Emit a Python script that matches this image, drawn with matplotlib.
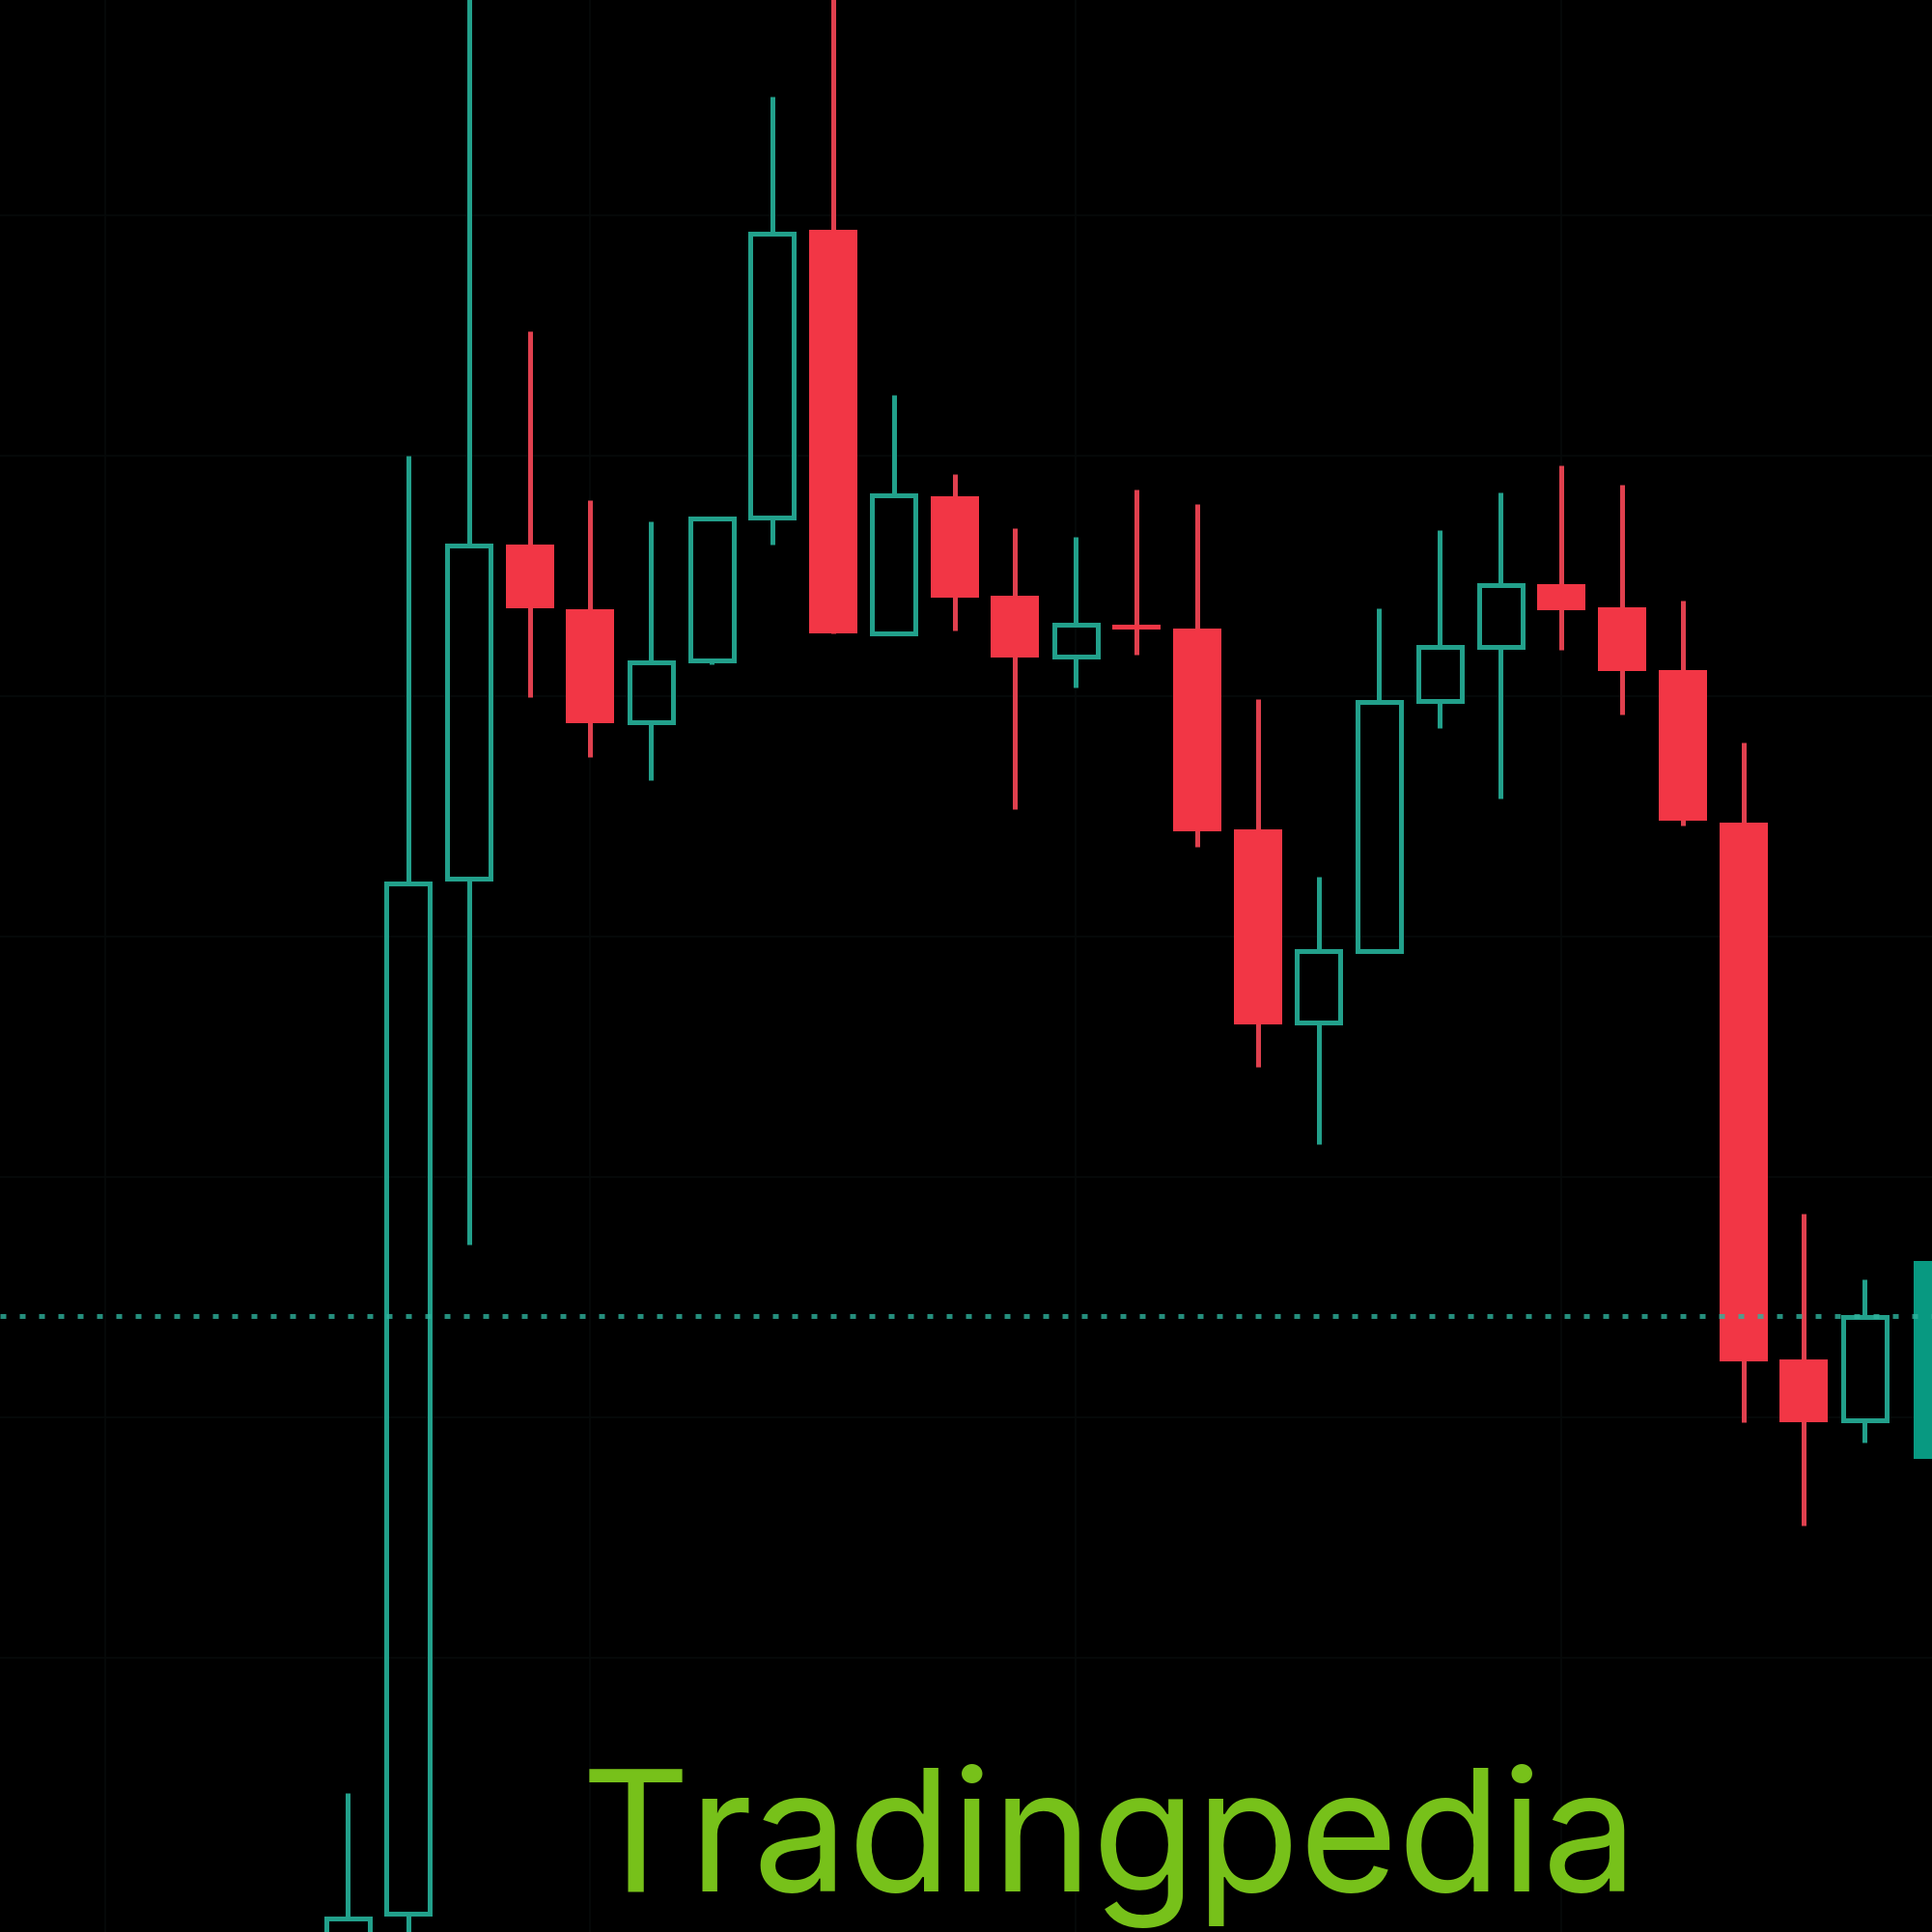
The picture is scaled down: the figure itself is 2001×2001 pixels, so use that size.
import matplotlib
matplotlib.use("Agg")
import matplotlib.pyplot as plt
from matplotlib.patches import Rectangle
import numpy as np

# ---- data ----
opens  = [46.0, 51.8, 159.0, 193.6, 186.9, 175.2, 181.6, 196.4, 226.2, 184.4,
          198.6, 188.3, 182.0, 185.3, 184.9, 164.1, 144.1, 151.5, 177.4, 183.0,
          189.5, 187.1, 180.6, 164.8, 109.2, 102.9, 98.9]
highs  = [64.3, 202.8, 253.0, 215.7, 198.2, 196.0, 196.3, 240.0, 254.0, 209.1,
          200.9, 195.3, 194.4, 199.3, 197.8, 177.6, 159.2, 187.0, 195.1, 199.0,
          201.8, 199.8, 187.8, 173.1, 124.3, 117.5, 119.4]
lows   = [44.0, 47.0, 121.1, 177.8, 171.6, 169.2, 181.2, 193.6, 184.4, 184.4,
          184.7, 166.2, 178.8, 182.2, 162.3, 139.5, 131.5, 151.5, 174.6, 167.3,
          182.7, 176.0, 164.5, 102.7, 92.0, 100.6, 98.9]
closes = [51.3, 158.5, 193.5, 187.0, 175.1, 181.4, 196.3, 225.8, 184.4, 198.7,
          188.1, 181.9, 185.3, 184.8, 163.9, 143.9, 151.5, 177.3, 183.0, 189.4,
          186.8, 180.5, 165.0, 109.0, 102.7, 113.6, 119.4]
last_price = 113.7
watermark = "Tradingpedia"

# ---- style ----
BG = "#000000"
UP = "#22a08b"
UP_LIVE = "#089981"
DOWN = "#f23645"
DOWN_WICK = "#e0404e"
GRID = "#070a0a"
WM = "#77c11a"

W, H = 2001, 2001
DPI = 100
px = 72.0 / DPI  # points per pixel

fig = plt.figure(figsize=(W / DPI, H / DPI), dpi=DPI, facecolor=BG)
ax = fig.add_axes([0, 0, 1, 1])
ax.set_facecolor(BG)
step_px = 62.85
x0 = -360.0 / step_px
ax.set_xlim(x0, x0 + W / step_px)
ax.set_ylim(49.9, 250.0)
for s in ax.spines.values():
    s.set_visible(False)
ax.set_xticks([])
ax.set_yticks([])

# faint grid
for gx in [-4, 4, 12, 20]:
    ax.axvline(gx, color=GRID, lw=1.6 * px, zorder=0)
for gy in np.arange(78.3, 250, 24.9):
    ax.axhline(gy, color=GRID, lw=1.6 * px, zorder=0)

lw = 5 * px
body_w = 50.0 / step_px
hollow_w = (50.0 - 5.0) / step_px
n = len(opens)
for i in range(n):
    o, h, l, c = opens[i], highs[i], lows[i], closes[i]
    top, bot = max(o, c), min(o, c)
    if i == n - 1:
        ax.add_patch(Rectangle((i - body_w / 2 + 0.2, bot), body_w, top - bot,
                               facecolor=UP_LIVE, edgecolor="none", zorder=3))
    elif c >= o:
        ax.plot([i, i], [top, h], color=UP, lw=lw, solid_capstyle="butt", zorder=2)
        ax.plot([i, i], [l, bot], color=UP, lw=lw, solid_capstyle="butt", zorder=2)
        ax.add_patch(Rectangle((i - hollow_w / 2, bot), hollow_w, top - bot,
                               facecolor="none", edgecolor=UP, lw=lw,
                               joinstyle="miter", zorder=3))
    else:
        ax.plot([i, i], [l, h], color=DOWN_WICK, lw=lw, solid_capstyle="butt", zorder=2)
        hh = max(top - bot, 0.45)
        ax.add_patch(Rectangle((i - body_w / 2, top - hh), body_w, hh,
                               facecolor=DOWN, edgecolor="none", zorder=3))

# last price dotted line
ax.axhline(last_price, color="#2fb39d", alpha=0.8, lw=5 * px,
           linestyle=(0, (1.2, 2.8)), dash_capstyle="butt", zorder=5)

# watermark
t = fig.text(602 / W, 1 - 1959 / H, watermark, color=WM, fontsize=125,
             family="Inter", ha="left", va="baseline", zorder=10)
fig.canvas.draw()
bb = t.get_window_extent()
t.set_fontsize(125 * 1095.0 / bb.width)

fig.savefig("out.png", dpi=DPI, facecolor=BG)
